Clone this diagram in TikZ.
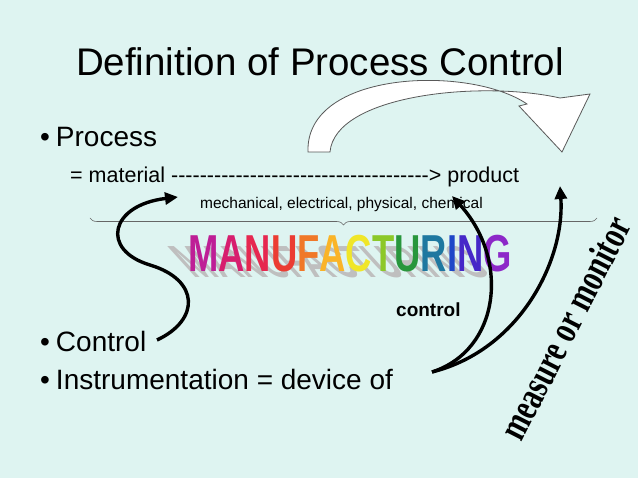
\documentclass[tikz,border=0pt]{standalone}
\usepackage{fontspec}
\setmainfont{Liberation Sans}
\newfontfamily\serifnarrow{Liberation Serif}
\usetikzlibrary{decorations.pathreplacing,arrows.meta}
\definecolor{bg}{RGB}{222,244,241}
\tikzset{
  txt/.style={inner sep=0pt, anchor=west},
  blk/.style={line width=3.4pt, -{Triangle[length=13pt,width=12pt]}},
}
\def\dd{-{}-{}-{}-{}-{}-{}}
\begin{document}
\begin{tikzpicture}[x=1pt,y=-1pt]
\fill[bg] (0,0) rectangle (638,478);
\useasboundingbox (0,0) rectangle (638,478);
% title
\node (title) at (320,62) {\fontsize{38.5}{42}\selectfont Definition of Process Control};
% bullets
\node[txt] (b1) at (40,137) {\fontsize{28}{32}\selectfont •\hspace{6pt}Process};
\node[txt] (eq) at (70,177) {\fontsize{21.5}{24}\selectfont = material \dd\dd\dd\dd\dd\dd{}> product};
\node[txt] (mech) at (200,204) {\fontsize{15.5}{17}\selectfont mechanical, electrical, physical, chemical};
\node[txt] (b2) at (40,341) {\fontsize{28}{32}\selectfont •\hspace{6pt}Control};
\node[txt] (b3) at (40,379) {\fontsize{28}{32}\selectfont •\hspace{6pt}Instrumentation = device of};
\node[txt] (ctl) at (396,310) {\fontsize{19}{21}\selectfont\bfseries control};
% brace
\coordinate (bl) at (90,218);
\coordinate (br) at (597,218);
\draw[gray!80!black, line width=0.6pt, decoration={brace,mirror,amplitude=7pt,aspect=0.5}, decorate] (bl) -- (br);
% MANUFACTURING
\node[gray!50, xscale=0.68, yscale=0.9, xslant=-1.2, inner sep=0pt] (shadow) at (330,262) {\fontsize{50}{50}\selectfont\bfseries MANUFACTURING};
\node[xscale=0.7, inner sep=0pt] (manu) at (350,254) {\fontsize{52}{52}\selectfont\bfseries
\textcolor[RGB]{190,30,150}{M}\textcolor[RGB]{215,30,110}{A}\textcolor[RGB]{230,40,80}{N}\textcolor[RGB]{235,60,50}{U}\textcolor[RGB]{240,120,40}{F}\textcolor[RGB]{250,180,40}{A}\textcolor[RGB]{240,230,40}{C}\textcolor[RGB]{140,200,40}{T}\textcolor[RGB]{40,150,60}{U}\textcolor[RGB]{30,120,160}{R}\textcolor[RGB]{30,70,200}{I}\textcolor[RGB]{70,40,200}{N}\textcolor[RGB]{140,40,200}{G}};
% measure or monitor
\node[rotate=63, xscale=0.72, inner sep=0pt] (meas) at (565,328) {\fontsize{40}{40}\selectfont\serifnarrow\bfseries measure or monitor};
% hollow arrow
\draw[gray!70!black, line width=0.8pt, fill=white]
  (308,152) .. controls (305,70) and (470,65) .. (527,104)
  -- (519,106) -- (562,152) -- (590,94) -- (560,98)
  .. controls (480,80) and (335,95) .. (330,152) -- cycle;
% black arrows
\coordinate (s0) at (157,340);
\coordinate (s1) at (178,197);
\draw[blk] (s0) .. controls (200,320) and (200,280) .. (150,265) .. controls (100,250) and (110,205) .. (s1);
\coordinate (c0) at (432,372);
\coordinate (c1) at (452,196);
\coordinate (m1) at (560,186);
\draw[blk] (c0) .. controls (500,350) and (510,260) .. (c1);
\draw[blk] (c0) .. controls (520,350) and (565,260) .. (m1);
\end{tikzpicture}
\end{document}
